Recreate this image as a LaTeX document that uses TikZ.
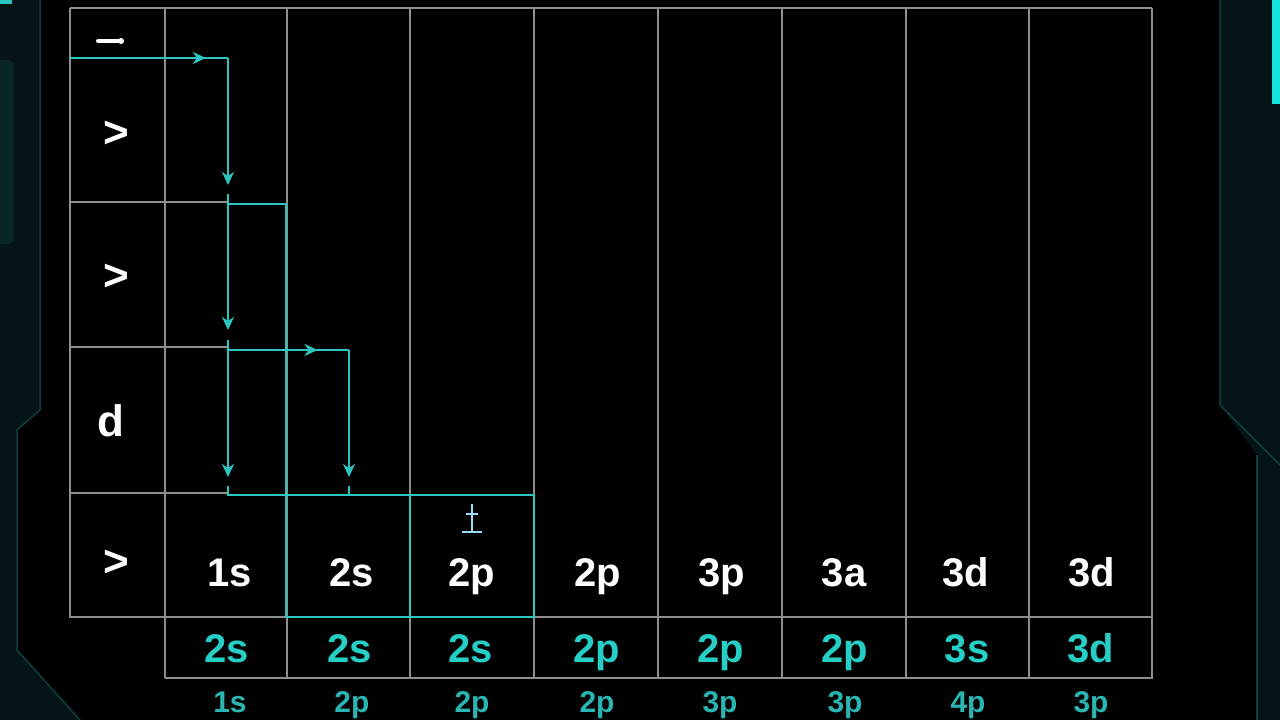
\documentclass[tikz,border=0pt]{standalone}
\usepackage{fontspec}
\setmainfont{Liberation Sans}
\usetikzlibrary{arrows.meta,decorations.markings}
\definecolor{cyl}{HTML}{2CC6C2}
\definecolor{cyt}{HTML}{26CFC6}
\definecolor{teal2}{HTML}{2AB5B2}
\definecolor{gridc}{HTML}{8E8E8E}
\definecolor{paneldark}{HTML}{051416}
\definecolor{paneledge}{HTML}{0F3F3F}
\definecolor{brightbar}{HTML}{12E4E0}
\tikzset{
  gridline/.style={draw=gridc, line width=1.3pt},
  cyanline/.style={draw=cyl, line width=2.8pt},
  tip/.style={-{Stealth[length=13pt,width=12pt,inset=4pt]}},
  midtip/.style={postaction={decorate}, decoration={markings, mark=at position #1 with {\arrow{Stealth[length=13pt,width=12pt,inset=4pt]}}}},
  whitelbl/.style={text=white, font=\fontsize{40}{44}\selectfont\bfseries, inner sep=0pt, anchor=base},
  cyanlbl/.style={text=cyt, font=\fontsize{40}{44}\selectfont\bfseries, inner sep=0pt, anchor=base},
  teallbl/.style={text=teal2, font=\fontsize{30}{34}\selectfont\bfseries, inner sep=0pt, anchor=base},
  leftlbl/.style={text=white, font=\fontsize{44}{48}\selectfont\bfseries, inner sep=0pt}
}
\begin{document}
\begin{tikzpicture}[x=1pt,y=-1pt]
\fill[black] (0,0) rectangle (1280,720);
\useasboundingbox (0,0) rectangle (1280,720);
% background panels
\fill[paneldark] (0,0) -- (40,0) -- (40,410) -- (17,430) -- (17,650) -- (80,720) -- (0,720) -- cycle;
\draw[paneledge, line width=1.5pt] (40,0) -- (40,410) -- (17,430) -- (17,650) -- (80,720);
\fill[paneldark!60!paneledge, rounded corners=6pt] (-10,60) rectangle (14,244);
\fill[cyl] (0,0) rectangle (12,4);
\fill[paneldark] (1280,0) -- (1220,0) -- (1220,405) -- (1257,455) -- (1257,720) -- (1280,720) -- cycle;
\draw[paneledge, line width=1.5pt] (1220,0) -- (1220,405) -- (1280,465);
\draw[paneledge, line width=1.2pt] (1257,455) -- (1257,720);
\fill[brightbar] (1272,0) rectangle (1280,104);
% grid
\draw[gridline] (70,8) -- (1152,8);
\draw[gridline] (70,8) -- (70,617) -- (1152,617);
\draw[gridline] (165,678) -- (1152,678) -- (1152,8);
\foreach \x in {165,287,410,534,658,782,906,1029} \draw[gridline] (\x,8) -- (\x,678);
\foreach \y in {202,347,493} \draw[gridline] (70,\y) -- (228,\y);
% left column labels
\draw[white, line width=4pt, line cap=round] (98,41) -- (119,41);
\fill[white] (121,41) circle (3pt);
\node[leftlbl] (l1) at (116,134) {>};
\node[leftlbl] (l2) at (116,277) {>};
\node[leftlbl] (l3) at (111,421) {d};
\node[leftlbl] (l4) at (116,563) {>};
% cyan path coordinates
\coordinate (s0) at (70,58);
\coordinate (k0) at (228,58);
\coordinate (e1) at (228,185);
\coordinate (t1) at (228,194);
\coordinate (j1) at (228,204);
\coordinate (r1) at (286,204);
\coordinate (r1b) at (286,617);
\coordinate (e2) at (228,330);
\coordinate (t2) at (228,340);
\coordinate (j2) at (228,350);
\coordinate (r2) at (349,350);
\coordinate (e3) at (349,477);
\coordinate (e4) at (228,477);
\coordinate (t3) at (228,486);
\coordinate (j3) at (228,495);
\coordinate (t4) at (349,486);
\coordinate (m4) at (349,495);
\coordinate (q1) at (534,495);
\coordinate (q2) at (534,617);
\coordinate (q3) at (286,617);
\coordinate (v1) at (410,495);
\coordinate (v2) at (410,617);
% cyan connectors
\draw[cyanline, midtip=0.86] (s0) -- (k0);
\draw[cyanline, tip] (k0) -- (e1);
\draw[cyanline] (t1) -- (j1) -- (r1) -- (r1b);
\draw[cyanline, tip] (j1) -- (e2);
\draw[cyanline] (t2) -- (j2);
\draw[cyanline, midtip=0.74] (j2) -- (r2);
\draw[cyanline, tip] (r2) -- (e3);
\draw[cyanline, tip] (j2) -- (e4);
\draw[cyanline] (t3) -- (j3) -- (q1) -- (q2) -- (q3);
\draw[cyanline] (t4) -- (m4);
\draw[cyanline] (v1) -- (v2);
% small symbol
\draw[cyan!40!white, line width=2.2pt] (472,504) -- (472,531);
\draw[cyan!40!white, line width=1.8pt] (466,514) -- (478,514);
\draw[cyan!40!white, line width=2.2pt] (462,532) -- (482,532);
% white labels
\node[whitelbl] (w1) at (230,586) {1s};
\node[whitelbl] (w2) at (352,586) {2s};
\node[whitelbl] (w3) at (472,586) {2p};
\node[whitelbl] (w4) at (598,586) {2p};
\node[whitelbl] (w5) at (722,586) {3p};
\node[whitelbl] (w6) at (844,586) {3a};
\node[whitelbl] (w7) at (966,586) {3d};
\node[whitelbl] (w8) at (1092,586) {3d};
% cyan labels
\node[cyanlbl] (c1) at (227,662) {2s};
\node[cyanlbl] (c2) at (350,662) {2s};
\node[cyanlbl] (c3) at (471,662) {2s};
\node[cyanlbl] (c4) at (597,662) {2p};
\node[cyanlbl] (c5) at (721,662) {2p};
\node[cyanlbl] (c6) at (845,662) {2p};
\node[cyanlbl] (c7) at (967,662) {3s};
\node[cyanlbl] (c8) at (1091,662) {3d};
% bottom labels
\node[teallbl] (b1) at (230,712) {1s};
\node[teallbl] (b2) at (352,712) {2p};
\node[teallbl] (b3) at (472,712) {2p};
\node[teallbl] (b4) at (597,712) {2p};
\node[teallbl] (b5) at (720,712) {3p};
\node[teallbl] (b6) at (845,712) {3p};
\node[teallbl] (b7) at (968,712) {4p};
\node[teallbl] (b8) at (1091,712) {3p};
\end{tikzpicture}
\end{document}
